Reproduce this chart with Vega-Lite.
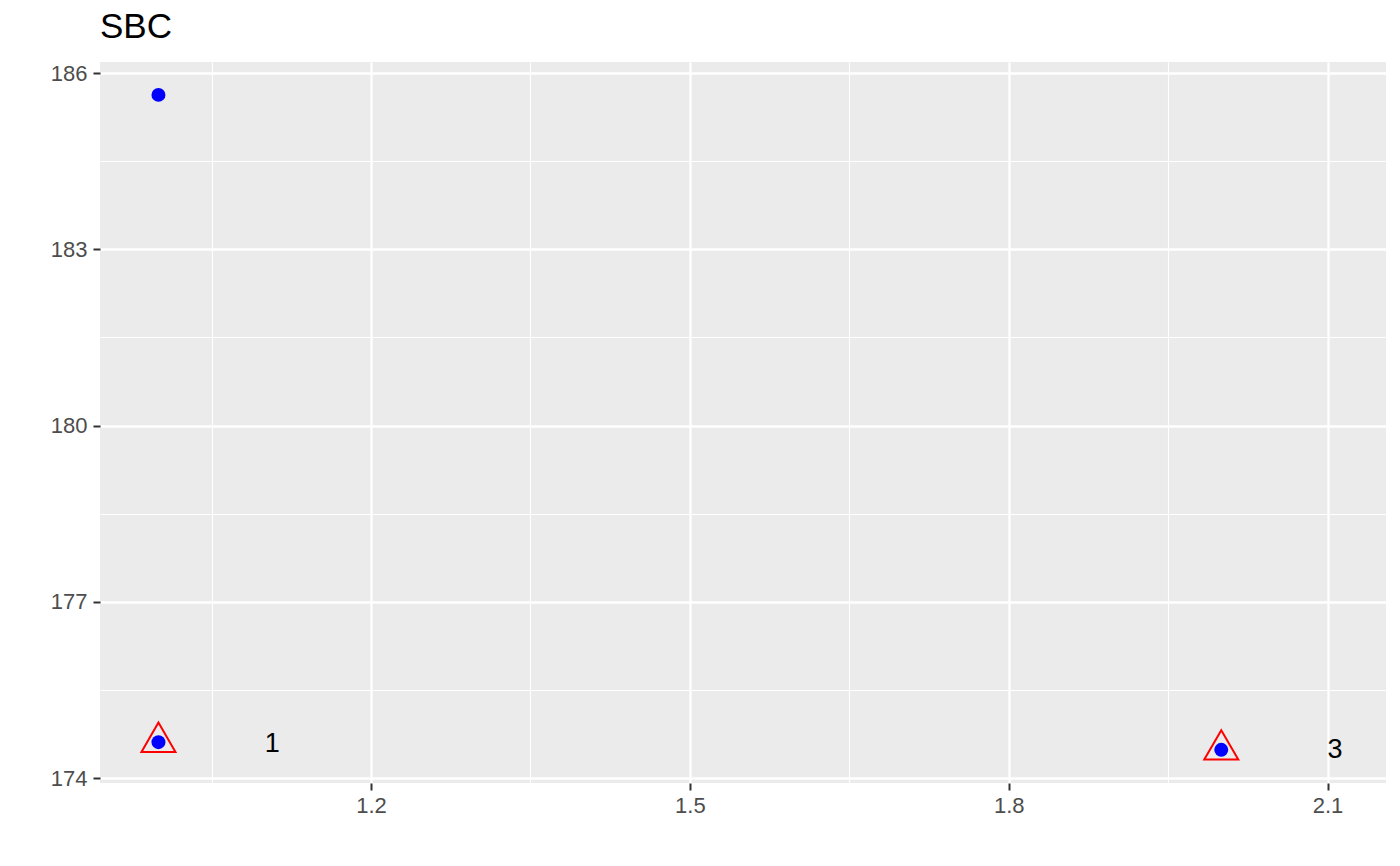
{
  "$schema": "https://vega.github.io/schema/vega-lite/v6.json",
  "width": 1286,
  "height": 721,
  "autosize": {"type": "none"},
  "padding": {"left": 100, "top": 62, "right": 14, "bottom": 83},
  "background": "white",
  "title": {
    "text": "SBC",
    "anchor": "start",
    "frame": "group",
    "font": "Liberation Sans",
    "fontSize": 35,
    "fontWeight": "normal",
    "color": "black",
    "baseline": "bottom",
    "offset": -18
  },
  "datasets": {
    "points": [
      {"x": 1, "y": 185.63},
      {"x": 1, "y": 174.61},
      {"x": 2, "y": 174.48}
    ],
    "flagged": [
      {"x": 1, "y": 174.61},
      {"x": 2, "y": 174.48}
    ],
    "labels": [
      {"x": 1.1, "y": 174.58, "label": "1"},
      {"x": 2.1, "y": 174.47, "label": "3"}
    ]
  },
  "encoding": {
    "x": {
      "field": "x",
      "type": "quantitative",
      "title": null,
      "scale": {"domain": [0.945, 2.155], "nice": false, "zero": false},
      "axis": {
        "values": [1.05, 1.2, 1.35, 1.5, 1.65, 1.8, 1.95, 2.1],
        "labelExpr": "abs(datum.value * 10 - round(datum.value * 10)) < 0.001 ? format(datum.value, '.1f') : ''",
        "gridWidth": {"condition": {"test": "abs(datum.value * 10 - round(datum.value * 10)) < 0.001", "value": 2.3}, "value": 1.1},
        "tickOpacity": {"condition": {"test": "abs(datum.value * 10 - round(datum.value * 10)) < 0.001", "value": 1}, "value": 0},
        "labelPadding": 5
      }
    },
    "y": {
      "field": "y",
      "type": "quantitative",
      "title": null,
      "scale": {"domain": [173.915, 186.19], "nice": false, "zero": false},
      "axis": {
        "values": [174, 175.5, 177, 178.5, 180, 181.5, 183, 184.5, 186],
        "labelExpr": "datum.value % 3 == 0 ? format(datum.value, 'd') : ''",
        "gridWidth": {"condition": {"test": "datum.value % 3 == 0", "value": 2.3}, "value": 1.1},
        "tickOpacity": {"condition": {"test": "datum.value % 3 == 0", "value": 1}, "value": 0},
        "labelPadding": 6
      }
    }
  },
  "layer": [
    {
      "data": {"name": "points"},
      "mark": {"type": "point", "shape": "circle", "filled": true, "size": 195, "color": "#0000FF", "opacity": 1}
    },
    {
      "data": {"name": "flagged"},
      "mark": {
        "type": "point",
        "shape": "M0,-1.155L1,0.577L-1,0.577Z",
        "filled": false,
        "size": 1156,
        "stroke": "#FF0000",
        "strokeWidth": 2,
        "opacity": 1
      }
    },
    {
      "data": {"name": "labels"},
      "mark": {
        "type": "text",
        "align": "left",
        "baseline": "middle",
        "font": "Liberation Sans",
        "fontSize": 27,
        "color": "black"
      },
      "encoding": {"text": {"field": "label", "type": "nominal"}}
    }
  ],
  "config": {
    "view": {"fill": "#EBEBEB", "stroke": null},
    "axis": {
      "domain": false,
      "grid": true,
      "gridColor": "white",
      "ticks": true,
      "tickColor": "#333333",
      "tickSize": 7,
      "tickWidth": 2,
      "labelFont": "Liberation Sans",
      "labelFontSize": 22,
      "labelColor": "#4D4D4D",
      "labelFlush": false,
      "labelOverlap": false
    }
  }
}
